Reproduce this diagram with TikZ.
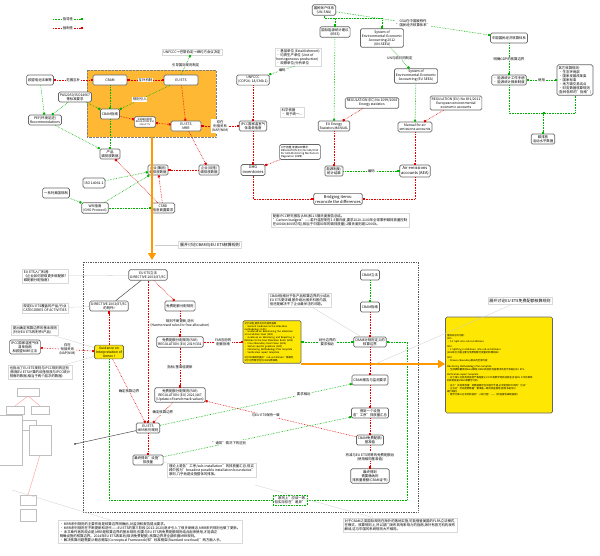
\documentclass[tikz,border=0pt]{standalone}
\usepackage{fontspec}
\setmainfont{Noto Sans CJK SC}
\usetikzlibrary{arrows.meta}
\begin{document}
\begin{tikzpicture}[x=1pt,y=-1pt,
  every node/.style={font=\fontsize{3.4}{4}\selectfont,align=center},
  box/.style={draw=gray!80!black,line width=0.7pt,rounded corners=1.5pt,fill=white,inner sep=1.5pt,minimum height=10pt},
  note/.style={draw=gray!30,fill=white,inner sep=1.5pt,align=left},
  lbl/.style={fill=white,inner sep=0.8pt},
  g/.style={draw=green!70!black,densely dotted,line width=0.6pt,-{Square[length=2pt,width=2pt]}},
  r/.style={draw=red!90!black,densely dotted,line width=0.6pt,-{Square[length=2pt,width=2pt]}},
  rr/.style={r,{Square[length=2pt,width=2pt]}-{Square[length=2pt,width=2pt]}},
  gg/.style={g,{Square[length=2pt,width=2pt]}-{Square[length=2pt,width=2pt]}},
  k/.style={draw=gray!60!black,line width=0.5pt},
  ln/.style={draw=gray!40,line width=0.3pt}]
\useasboundingbox (0,0) rectangle (600,555);
% legend
\coordinate (lg1) at (53,19); \coordinate (lg2) at (83,19);
\coordinate (lr1) at (53,28); \coordinate (lr2) at (83,28);
\draw[g] (lg1) -- (lg2) node[lbl,midway] {指导性};
\draw[r] (lr1) -- (lr2) node[lbl,midway] {强制性};
% orange region
\fill[orange!70!yellow,opacity=0.8] (87,70) rectangle (216,137);
\draw[densely dotted,gray] (87,70) rectangle (216,137);
\node[box,minimum width=34pt] (cbam) at (110,80) {CBAM};
\node[box,minimum width=34pt] (euets) at (181,80) {EU ETS};
\node[box] (cbamg) at (110,114) {CBAM指南};
\node[box,font=\fontsize{2.2}{2.6}\selectfont] (impl) at (145,122) {实施细则(欧盟)\\REGULATION (EU)\\2023/1773};
\node[box,minimum width=30pt] (mrr) at (186,126) {EU ETS\\MRR};
\node[box] (batt) at (40,80) {欧盟电池法案等};
\node[box] (pas) at (75,97) {PAS2050/ISO14067\\等标准要求};
\node[box] (pef) at (45,120) {PEF(环境足迹)\\Recommendations};
\node[box] (prod) at (110,154) {产品\\碳排放数据};
\node[box] (ent) at (158,170) {企业(集团)\\碳排放数据};
\node[box] (fac) at (209,170) {企业(设施)\\碳排放数据};
\node[box] (iso) at (94,183) {ISO 14064-1};
\node[box] (us) at (56,193) {一系列美国规制};
\node[box] (wri) at (95,208) {WRI指南\\(GHG Protocol)};
\node[box] (csrd) at (163,208) {CSRD\\信息披露要求};
\draw[rr] (batt) -- (cbam) node[lbl,midway] {范围互补};
\draw[rr] (cbam) -- (euets) node[lbl,midway] {互补机制};
\draw[g] (cbam) -- (cbamg);
\draw[g] (euets) -- (cbamg) node[lbl,pos=0.6] {规则引入};
\draw[r] (euets) -- (mrr);
\draw[rr] (impl) -- (mrr);
\draw[r] (cbamg) -- (impl);
\draw[g] (pas) -- (cbamg); \draw[g] (pas) -- (pef);
\draw[g] (batt) -- (pef);
\draw[g] (cbamg) -- (prod); \draw[g] (pef) -- (prod);
\draw[r] (mrr) -- (fac);
\draw[r] (fac) -- (ent);
\draw[r] (csrd) -- (ent); \draw[r] (csrd) -- (prod);
\draw[g] (iso) -- (ent); \draw[g] (wri) -- (ent);
\draw[g] (us) -- (wri); \draw[g] (wri) -- (csrd);
% UNFCCC / IPCC
\node[note] (paris) at (192,52) {UNFCCC→巴黎协定→缔约方会议决定};
\draw[g] (euets.north) -- (paris) node[lbl,pos=0.5] {引导国际规则制定};
\node[box] (unf) at (253,80) {UNFCCC\\(COP24: 18/CMA.1)};
\node[note] (bul) at (298,57) {• 基层单位 (Establishment)\\• 均质生产单位 (Unit of\\homogeneous production)\\• 观察单位/分析单位};
\coordinate (bse) at (295,66);
\draw[g] (bse) -- (unf) node[lbl,pos=0.5] {编码};
\node[box] (ipcc) at (253,126) {IPCC国家温室气\\体清单指南};
\draw[r] (unf) -- (ipcc);
\draw[rr] (mrr) -- (ipcc) node[lbl,midway] {存在\\衔接关系\\(NAP/NIM)};
\node[note] (sci) at (292,112) {科学依据\\• 用于统一...};
\node[box,align=left,font=\fontsize{2.6}{3}\selectfont] (reg) at (300,152) {对于欧盟,增强MRR要求:\\REGULATION (EU) No 525/2013\\EU GHG Monitoring Mechanism\\Regulation (MMR)};
\node[box,font=\fontsize{4}{5}\selectfont] (ghg) at (253,170) {GHG\\inventories};
\draw[r] (ipcc) -- (ghg); \draw[r] (reg) -- (ghg);
% right top
\node[box] (sna) at (324,10) {国民账户体系\\(UN-SNA)};
\node[box] (ires) at (335,32) {国际能源统计建议\\(IRES)};
\node[box] (seea12) at (382,38) {System of\\Environmental-Economic\\Accounting 2012\\(UN-SEEA)};
\node[box] (euseea) at (416,76) {System of\\Environmental-Economic\\Accounting (EU SEEA)};
\node[box] (r1099) at (372,103) {REGULATION (EC) No 1099/2008\\Energy statistics};
\node[box] (r691) at (456,103) {REGULATION (EU) No 691/2011\\European environmental\\economic accounts};
\node[box] (esm) at (334,126) {EU Energy\\Statistics MANUAL};
\node[box] (mae) at (415,127) {Manual for air\\emissions accounts};
\node[box] (ens) at (334,171) {能源制度/\\统计结果};
\node[box,font=\fontsize{4}{5}\selectfont] (aea) at (415,171) {Air emissions\\accounts (AEA)};
\node[box,font=\fontsize{4}{5}\selectfont] (brid) at (338,199) {Bridging items:\\reconcile the differences};
\node[box] (cn) at (509,38) {中国国民经济核算体系};
\node[box,align=left] (cnh) at (509,80) {• 能源统计工作手册\\• 能源统计报表制度};
\node[box,align=left] (oth) at (575,80) {其它核算规则:\\• 生态环境部\\• 国家发展改革委\\• 国家标准\\• 地方碳交易试点\\• 财务数据核算规则\\(各种各样的"指南")};
\node[box] (act) at (543,139) {碳排放\\活动水平数据};
\draw[g] (sna) -- ++(0,8) -| (ires); \draw[g] (sna) -- ++(0,8) -| (seea12);
\draw[g] (sna) -- (cn) node[lbl,midway] {OSA在中国被称作\\"国民经济核算体系"};
\draw[g] (seea12) -- (euseea) node[lbl,midway] {UN与欧共同制定};
\draw[g] (ires) -- (esm); \draw[g] (euseea) -- (mae);
\draw[r] (r1099) -- (esm); \draw[r] (r691) -- (mae);
\draw[r] (esm) -- (ens); \draw[r] (mae) -- (aea);
\draw[g] (ens) -- (aea) node[lbl,midway] {编码};
\draw[r] (aea) |- (brid); \draw[r] (ghg) |- (brid);
\draw[g] (cn) -- (cnh) node[lbl,midway] {明确GDP的核算边界};
\draw[gg] (cnh) -- (oth) node[lbl,midway] {使用};
\draw[g] (cnh) |- (543,113) -- (act); \draw[g] (oth) |- (543,113);
\node[note] (carb) at (340,220) {配套IPCC研究报告(AR6)和1.5摄氏度报告总结。\\"Carbon budgets"——若升温控制在1.5摄氏度,要求2020-2100年全球累积碳排放量控制\\在400Gt(4000亿吨),相当于中国80年的碳排放量);2摄氏度则是1200Gt。};
% yellow arrow
\draw[orange!80!yellow,line width=1.5pt,-{Triangle[length=7pt,width=8pt]}] (152,137) -- (152,260);
\node[note,font=\fontsize{4}{5}\selectfont] (d1) at (210,245) {展开讨论CBAM与EU ETS核算规则};
% big dotted box
\draw[densely dotted,gray!70!black,line width=0.7pt] (83,262) rectangle (418,512);
\node[box] (dir) at (148,275) {EU ETS立法\\DIRECTIVE 2003/87/EC};
\node[box] (ann) at (109,306) {DIRECTIVE 2003/87/EC\\的附件I};
\node[box] (fa) at (180,306) {免费配额分配规则};
\node[box,fill=yellow!90!orange] (gui) at (109,352) {Guidance on\\Interpretation of\\Annex I};
\node[box] (far) at (180,342) {免费配额分配规则(FAR)\\REGULATION (EU) 2019/331};
\node[box] (far2) at (180,395) {免费配额分配规则(FAR)\\REGULATION (EU) 2021/447\\(Update of benchmark values)};
\node[box] (mrrs) at (148,428) {EU ETS\\MRR系列规则};
\node[box] (inst) at (148,460) {最终得到"设施"\\排放量};
\draw[k] (dir) -- (ann);
\draw[r] (dir) -- (fa);
\draw[r] (fa) -- (far) node[lbl,midway] {规则不断更新,迭代\\(Harmonised rules for free allocation)};
\draw[r] (far) -- (far2) node[lbl,midway] {指标/基准值更新};
\draw[r] (gui) -- (ann);
\draw[r] (dir) -- (mrrs);
\draw[r] (gui) -- (mrrs) node[lbl,midway] {确定核算边界};
\draw[r] (far2) -- (mrrs) node[lbl,midway] {确定核算边界};
\draw[r] (mrrs) -- (inst);
\node[box] (ipcc2) at (25,347) {IPCC国家温室气体\\清单指南\\和欧盟MMR立法};
\draw[rr] (ipcc2) -- (gui) node[lbl,midway] {存在\\衔接关系\\(NAP/NIM)};
\node[note] (n1) at (45,276) {EU ETS入门科普:\\《企业如何获取更多碳配额?\\碳配额分配指南》};
\node[note] (n2) at (45,308) {规定EU ETS覆盖的产品/行业\\CATEGORIES OF ACTIVITIES};
\node[note] (n3) at (35,330) {提出确定核算边界的基本原则\\(针对EU ETS的附件I产品)};
\node[note] (n4) at (40,372) {也指出了EU ETS规则与IPCC规则的区别\\(依据EU ETS计算的设施排放与IPCC统计\\视角的数据,相当于两个层次的数据)};
\draw[ln] (n1) -- (dir); \draw[ln] (n2) -- (ann); \draw[ln] (n3) -- (gui); \draw[ln] (n4) -- (gui);
\node[box,fill=yellow!90!orange,align=left,font=\fontsize{2.4}{2.9}\selectfont,text width=55pt] (ybox) at (272,342) {对于设施,提供充分的具体指南:\\• General Guidance to the allocation\\methodology (GD1)\\• Guidance on determining the allocation\\at installation level (GD2)\\• Guidance on Monitoring and Reporting in\\Relation to the Free Allocation Rules (GD5)\\• Cross-Boundary Heat Flows (GD6)\\• Sector-specific guidance (GD9)\\• Monitoring Methodology Plan template\\• Verification report template\\[2.5pt]对于MRR规则提出"sub-installation"等概念,\\对于边界要求也比CBAM更细致。};
\draw[r] (far) -- (ybox) node[lbl,midway] {FAR应用的\\配套指南};
\node[note] (n5) at (300,300) {CBAM指南对于各产品核算边界的小结比\\EU ETS更详细,额外给出很多科普内容,\\但还是解决不了企业最关注的问题。};
% CBAM column
\node[box] (cl) at (370,275) {CBAM立法};
\node[box] (cg) at (370,307) {CBAM指南};
\node[box] (cb) at (370,342) {CBAM对规则定义的\\核算边界};
\node[box] (cr) at (370,380) {CBAM报告与监测要求};
\node[box] (cs) at (370,413) {得到一个设施\\各"工序"排放量汇总};
\node[box] (cf) at (370,440) {CBAM免费配额/\\基准值};
\node[box] (cfin) at (370,476) {最终得到\\需要缴纳的\\排放量差额(CBAM证书)};
\draw[g] (cl) -- (cg); \draw[r] (cg) -- (cb); \draw[r] (cb) -- (cr); \draw[r] (cr) -- (cs); \draw[r] (cs) -- (cf);
\draw[r] (cf) -- (cfin) node[lbl,midway] {将减与EU ETS同等的免费配额后\\(使用相同基准值)};
\draw[gg] (ybox.east |- cb) -- (cb) node[lbl,midway] {划分边界的\\要求相近};
\draw[ln] (n5) -- (cb);
\draw[g] (mrrs) -- (cr) node[lbl,pos=0.75] {要求相近};
\draw[r] (cf) -- (far2) node[lbl,pos=0.6] {与EU ETS保持一致};
\draw[g] (inst) -- (cs) node[lbl,pos=0.35] {"通常"情况下的区别};
\node[note] (n6) at (212,470) {理论上是各"工序/sub-installation"的排放量汇总,但实\\践中因为"broadest possible installation boundaries"\\原则,几乎就是设施整体的排放。};
\draw[ln] (n6) -- (inst);
\node[draw=green!70!black,densely dotted,line width=0.6pt,fill=white,inner sep=1.5pt] (diff) at (290,500) {"原则上"应该一致\\但实际存在"差异"};
\draw[g,-] (gui) -- (109,500) -- (diff);
\draw[g] (diff) -- (407,500) -- (407,342) -- (cb);
% right yellow big
\node[note,font=\fontsize{4}{5}\selectfont] (d2) at (520,301) {展开讨论EU ETS免费配额核算规则};
\node[box,fill=yellow!90!orange,align=left,font=\fontsize{2.4}{2.9}\selectfont,text width=104pt,minimum height=96pt] (yb2) at (499,365) {值得关注的内容:\\GD1:\\• 5.2 Split into sub-installations\\[2.5pt]GD2:\\• 3 Splitting installations into sub-installations\\(GD2其它内容主要与免费配额分配量的核算相关)\\[2.5pt]GD9:\\• Process/boundary相关的全部内容\\[2.5pt]Monitoring Methodology Plan template\\• 全部模板翻译成Excel模板,CBAM的规则内容要求肯定不会超过EU ETS。\\[2.5pt]Verification report template\\• 对于第三方机构核查的严格程度,EU ETS将更早地启动核查,并且EU ETS的审核\\的规则就是CBAM将要学习的。\\[2.5pt]• 关于"实际排放量"的数据要求在中国行不通,必须宽免和大地的"分法"\\• 企业对"历史配额数据"要填备一致的核查报告(报告书是可以\\被打码的)\\• 需作为第三方机构核查的"入职门槛"——《核查报告编制指南》};
\draw[orange!80!yellow,line width=1.5pt,-{Triangle[length=7pt,width=8pt]}] (ybox.east |- 0,364) -- (yb2.west |- 0,364);
\draw[ln] (d2) -- (375,364);
\draw[ln] (d1) -- (155,245);
% left tree (tiny)
\foreach \x/\y/\w/\h in {28/392/22/8, 15/410/18/8, 40/410/18/8, 28/425/16/10, 8/440/28/50, 40/440/22/30, 28/500/16/10, 28/515/16/12}
  \draw[gray!50,fill=white] (\x-\w/2,\y-\h/2) rectangle (\x+\w/2,\y+\h/2);
\draw[red!40] (28,396) -- (15,406); \draw[red!40] (28,396) -- (40,406); \draw[red!40] (40,455) -- (28,495);
\coordinate (kt) at (75,444); \fill (kt) circle (0.8pt);
\draw[k] (mrrs) -- (kt);
\node[note] (n7) at (150,532) {• MRR系列规则的主要作用是核算边界明确后,对监测和报告提出要求。\\• MRR系列规则在不断更新和迭代——EU ETS的第三阶段(2013-2020)逐步引入了很多新概念,MRR系列规则也做了更新。\\• 本文章作者的观点是,MRR是核算边界的基本规则,但要与EU ETS的免费配额规则结合起来使用,才能真正\\明确设施的核算边界。2024年EU ETS改革后(取消免费配额),核算边界将全部依据MRR规则。\\• 解决核算问题需要从概念框架(Conceptual Framework)和"标准框架(Standard overload)"两方面入手。};
\node[note] (n8) at (400,525) {对于CBAM之类国际规则在海外的落地实施,可能借鉴美国的FLPA立法模式,\\在模式、核算规则上,并以部门发布具有影响力的指南,海外有官方机构发布\\解读,这与中国的系统规则大不相同。};
\draw[ln] (n8) -- (255,485);
\draw[ln] (n7) -- (12,490);
\end{tikzpicture}
\end{document}
